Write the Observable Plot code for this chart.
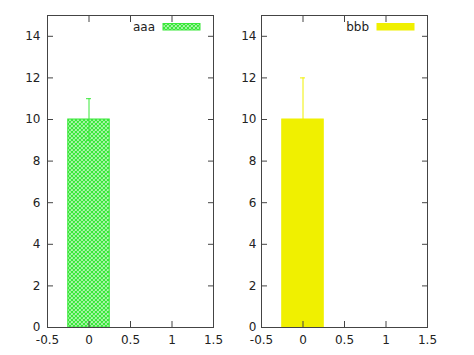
<!DOCTYPE html>
<html>
<head>
<meta charset="utf-8">
<script src="https://cdn.jsdelivr.net/npm/d3@7"></script>
<script src="https://cdn.jsdelivr.net/npm/@observablehq/plot@0.6"></script>
<style>
  html, body { margin: 0; padding: 0; background: #fff; }
  #wrap { display: flex; width: 474px; height: 355px; }
</style>
</head>
<body>
<div id="wrap"></div>
<script>
// ---- data ----
const seriesNames = ["aaa", "bbb"];
const barX = [0, 0];
const barValues = [10, 10];
const barErrors = [1, 2];
const yTicks = [0, 2, 4, 6, 8, 10, 12, 14];
const xTicks = [-0.5, 0, 0.5, 1, 1.5];

// ---- style ----
const panelStyles = [
  {fill: "url(#hatchA)", stroke: "#3ae83a", err: "#3ae83a", marginLeft: 47, marginRight: 24, pad: 7, swatchFill: "url(#hatchA)"},
  {fill: "#f0f000", stroke: "#f0f000", err: "#f0f000", marginLeft: 24, marginRight: 47, pad: 5, swatchFill: "#f0f000"}
];
const barWidth = 0.5;
const capHalf = 0.03;
const axisColor = "#444";

const wrap = document.getElementById("wrap");

seriesNames.forEach((name, i) => {
  const st = panelStyles[i];
  const data = [{x: barX[i], v: barValues[i], e: barErrors[i]}];
  const svg = Plot.plot({
    width: 237,
    height: 355,
    marginLeft: st.marginLeft,
    marginRight: st.marginRight,
    marginTop: 15,
    marginBottom: 28,
    style: {fontFamily: "DejaVu Sans", fontSize: "12px", color: "#222", background: "#fff"},
    x: {domain: [-0.5, 1.5], label: null},
    y: {domain: [0, 15], label: null},
    marks: [
      Plot.rectY(data, {x1: d => d.x - barWidth / 2, x2: d => d.x + barWidth / 2, y: "v", fill: st.fill, stroke: st.stroke, strokeWidth: 1}),
      Plot.ruleX(data, {x: "x", y1: d => d.v - d.e, y2: d => d.v + d.e, stroke: st.err, strokeWidth: 1}),
      Plot.ruleY(data, {y: d => d.v + d.e, x1: d => d.x - capHalf, x2: d => d.x + capHalf, stroke: st.err}),
      Plot.ruleY(data, {y: d => d.v - d.e, x1: d => d.x - capHalf, x2: d => d.x + capHalf, stroke: st.err}),
      Plot.frame({stroke: axisColor}),
      // labels
      Plot.axisY({anchor: "left", ticks: yTicks, tickSize: 0, tickPadding: st.pad, tickFormat: d => String(d), fill: "#222", label: null}),
      Plot.axisX({anchor: "bottom", ticks: xTicks, tickSize: 0, tickPadding: 8, tickFormat: d => String(d), fill: "#222", label: null}),
      // inward ticks on all four sides
      Plot.axisY({anchor: "left", ticks: yTicks, tickSize: -6, tickFormat: () => "", stroke: axisColor, label: null}),
      Plot.axisY({anchor: "right", ticks: yTicks, tickSize: -6, tickFormat: () => "", stroke: axisColor, label: null}),
      Plot.axisX({anchor: "bottom", ticks: xTicks, tickSize: -6, tickFormat: () => "", stroke: axisColor, label: null}),
      Plot.axisX({anchor: "top", ticks: xTicks, tickSize: -6, tickFormat: () => "", stroke: axisColor, label: null})
    ]
  });

  const s = d3.select(svg);
  const defs = s.insert("defs", ":first-child");
  const pat = defs.append("pattern")
    .attr("id", "hatchA").attr("patternUnits", "userSpaceOnUse")
    .attr("width", 4).attr("height", 4);
  pat.append("rect").attr("width", 4).attr("height", 4).attr("fill", "#ffffff");
  pat.append("path").attr("d", "M-1,-1 L5,5 M5,-1 L-1,5 M-1,3 L1,5 M3,-1 L5,1 M3,5 L5,3 M-1,1 L1,-1")
    .attr("stroke", "#3ae83a").attr("stroke-width", 1.4);

  // legend (top-right inside frame)
  const frameRight = 237 - st.marginRight;
  const swW = 37, swH = 6.5, swY = 23.5;
  const swX = frameRight - 13 - swW;
  const lg = s.append("g");
  lg.append("rect").attr("x", swX).attr("y", swY).attr("width", swW).attr("height", swH)
    .attr("fill", st.swatchFill).attr("stroke", st.stroke).attr("stroke-width", 1);
  lg.append("text").attr("x", swX - 8).attr("y", swY + swH / 2).attr("dy", "0.35em")
    .attr("text-anchor", "end").attr("fill", "#222")
    .style("font-family", "DejaVu Sans").style("font-size", "12px")
    .text(name);

  wrap.appendChild(svg);
});
</script>
</body>
</html>
